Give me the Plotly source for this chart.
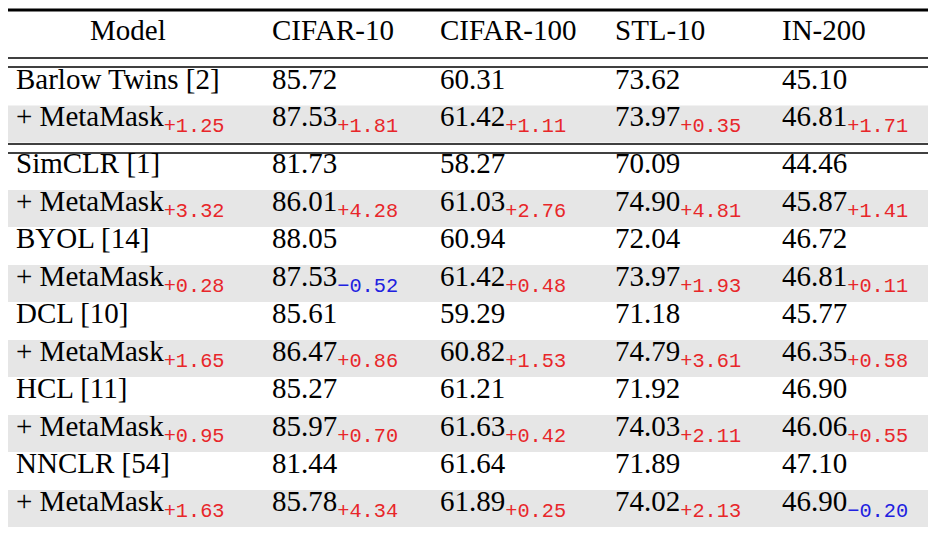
import plotly.graph_objects as go

columns = ["Model", "CIFAR-10", "CIFAR-100", "STL-10", "IN-200"]
models = ["Barlow Twins [2]", "+ MetaMask", "SimCLR [1]", "+ MetaMask", "BYOL [14]", "+ MetaMask",
          "DCL [10]", "+ MetaMask", "HCL [11]", "+ MetaMask", "NNCLR [54]", "+ MetaMask"]
model_gain = [None, 1.25, None, 3.32, None, 0.28, None, 1.65, None, 0.95, None, 1.63]
cifar10 = [85.72, 87.53, 81.73, 86.01, 88.05, 87.53, 85.61, 86.47, 85.27, 85.97, 81.44, 85.78]
cifar10_gain = [None, 1.81, None, 4.28, None, -0.52, None, 0.86, None, 0.70, None, 4.34]
cifar100 = [60.31, 61.42, 58.27, 61.03, 60.94, 61.42, 59.29, 60.82, 61.21, 61.63, 61.64, 61.89]
cifar100_gain = [None, 1.11, None, 2.76, None, 0.48, None, 1.53, None, 0.42, None, 0.25]
stl10 = [73.62, 73.97, 70.09, 74.90, 72.04, 73.97, 71.18, 74.79, 71.92, 74.03, 71.89, 74.02]
stl10_gain = [None, 0.35, None, 4.81, None, 1.93, None, 3.61, None, 2.11, None, 2.13]
in200 = [45.10, 46.81, 44.46, 45.87, 46.72, 46.81, 45.77, 46.35, 46.90, 46.06, 47.10, 46.90]
in200_gain = [None, 1.71, None, 1.41, None, 0.11, None, 0.58, None, 0.55, None, -0.20]

FONT = "Liberation Serif, Times New Roman, serif"
col_x = [8, 264, 432, 607, 774]
row_y = [79, 116] + [163 + 37.5 * i for i in range(10)]
text_dy = -5


def gain_tag(g):
    if g is None:
        return ""
    color = "#e8262a" if g >= 0 else "#2020e0"
    sign = "+" if g >= 0 else "\u2212"
    return (f"<sub><span style='color:{color};font-family:Liberation Mono'>"
            f"{sign}{abs(g):.2f}</span></sub>")


def fmt(vals, gains):
    return [f"{v:.2f}{gain_tag(g)}" for v, g in zip(vals, gains)]


cells = [[m + gain_tag(g) for m, g in zip(models, model_gain)],
         fmt(cifar10, cifar10_gain), fmt(cifar100, cifar100_gain),
         fmt(stl10, stl10_gain), fmt(in200, in200_gain)]

fig = go.Figure()

# gray bands on the MetaMask rows
for i, y in enumerate(row_y):
    if i % 2 == 1:
        fig.add_shape(type="rect", x0=0, x1=936, y0=y - 18.5, y1=y + 18.5,
                      fillcolor="#e6e6e6", line_width=0, layer="below")

for j, col in enumerate(cells):
    fig.add_trace(go.Scatter(x=[col_x[j]] * len(col), y=[y + text_dy for y in row_y],
                             text=col, mode="text", textposition="middle right",
                             textfont=dict(family=FONT, size=29, color="black"),
                             hoverinfo="skip"))

fig.add_trace(go.Scatter(x=[82] + col_x[1:], y=[30 + text_dy] * 5, text=columns, mode="text",
                         textposition="middle right",
                         textfont=dict(family=FONT, size=29, color="black"), hoverinfo="skip"))

# rules
for y, w in [(2, 3), (50, 1.5), (59, 1.5), (136, 1.5), (145, 1.5), (531, 3)]:
    fig.add_shape(type="line", x0=0, x1=936, y0=y, y1=y, line=dict(color="black", width=w))

fig.update_layout(width=936, height=537, margin=dict(l=0, r=0, t=0, b=0),
                  plot_bgcolor="white", paper_bgcolor="white", showlegend=False,
                  xaxis=dict(range=[0, 936], visible=False),
                  yaxis=dict(range=[537, 0], visible=False))
fig.write_html("out.html")
